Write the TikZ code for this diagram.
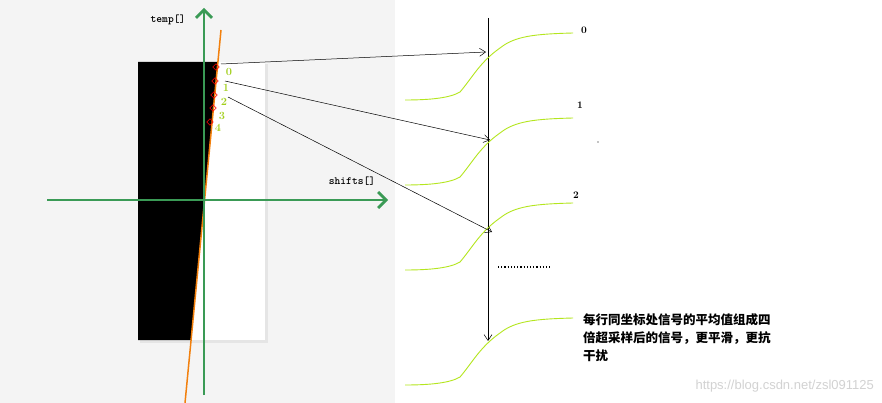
\documentclass[tikz,border=0pt]{standalone}
\usepackage{fontspec}
\newfontfamily\cjk{Noto Sans CJK SC}
\newfontfamily\lsans{Liberation Sans}
\usetikzlibrary{arrows.meta}
\definecolor{axg}{HTML}{3A9A55}
\definecolor{sigc}{HTML}{B4E61E}
\begin{document}
\begin{tikzpicture}[x=1pt,y=-1pt,
  axis/.style={draw=axg,line width=2.8pt,-{Straight Barb[length=8pt,width=16pt]}},
  sig/.style={draw=sigc,line width=0.9pt},
  conn/.style={draw=black,line width=0.5pt,-{Straight Barb[length=6pt,width=8pt]}},
  lbl/.style={font=\ttfamily\bfseries\fontsize{11}{13}\selectfont,inner sep=0pt},
  num/.style={font=\bfseries\fontsize{11}{13}\selectfont,text=sigc!90!black,inner sep=0pt},
  rnum/.style={font=\bfseries\fontsize{10}{12}\selectfont,inner sep=0pt},
  dia/.style={draw=red,rectangle,rotate=45,inner sep=2.3pt,line width=0.5pt}]
\useasboundingbox (0,0) rectangle (882,403);
\fill[white] (0,0) rectangle (882,403);
\fill[gray!9] (0,0) rectangle (395,403);
\fill[gray!20] (140,64) rectangle (268,343);
\fill[white] (138,62) rectangle (265,340);
\fill[black] (138,62) -- (218,62) -- (191,340) -- (138,340) -- cycle;
\draw[orange!80!brown,line width=1.5pt] (221,30) -- (185,403);
% axes
\coordinate (ya) at (204,395); \coordinate (yb) at (204,8);
\coordinate (xa) at (47,200); \coordinate (xb) at (388,200);
\draw[axis] (ya) -- (yb);
\draw[axis] (xa) -- (xb);
\node[lbl] (temp) at (168,20) {temp[]};
\node[lbl] (shifts) at (352,181) {shifts[]};
% diamonds
\foreach \i/\x/\y in {0/216/67,1/215/81,2/214/95,3/213/108,4/210/122}{
  \node[dia] (d\i) at (\x,\y) {};}
\node[num] (n0) at (229,72) {0};
\node[num] (n1) at (226,88) {1};
\node[num] (n2) at (224,102) {2};
\node[num] (n3) at (222,116) {3};
\node[num] (n4) at (218,128) {4};
% vertical line
\coordinate (vt) at (488,18); \coordinate (vb) at (488,341);
\draw[conn] (vt) -- (vb);
% signals
\foreach \dy in {0,85,170,285}{
  \draw[sig,shift={(0,\dy)}] (405,100) .. controls (430,100) and (450,98) .. (460,92)
     .. controls (472,78) and (480,62) .. (500,48) .. controls (515,36) and (535,34) .. (573,33);}
% arrows
\coordinate (a0) at (486,52); \coordinate (a1) at (490,140); \coordinate (a2) at (492,232);
\coordinate (s0) at (221,64); \coordinate (s1) at (225,81); \coordinate (s2) at (228,97);
\draw[conn] (s0) -- (a0);
\draw[conn] (s1) -- (a1);
\draw[conn] (s2) -- (a2);
\node[rnum] (r0) at (584,30) {0};
\node[rnum] (r1) at (580,105) {1};
\node[rnum] (r2) at (576,195) {2};
\fill (598,142) circle (0.6);
\draw[dotted,line width=1.2pt] (498,267) -- (550,267);
\node[font=\cjk\bfseries\fontsize{12.5}{18}\selectfont,align=left,anchor=north west,inner sep=0pt] (txt) at (583,313)
 {每行同坐标处信号的平均值组成四\\倍超采样后的信号，更平滑，更抗\\干扰};
\node[font=\lsans\fontsize{13}{15}\selectfont,text=gray!35,anchor=east,inner sep=0pt] (wm) at (874,386) {https://blog.csdn.net/zsl091125};
\end{tikzpicture}
\end{document}
